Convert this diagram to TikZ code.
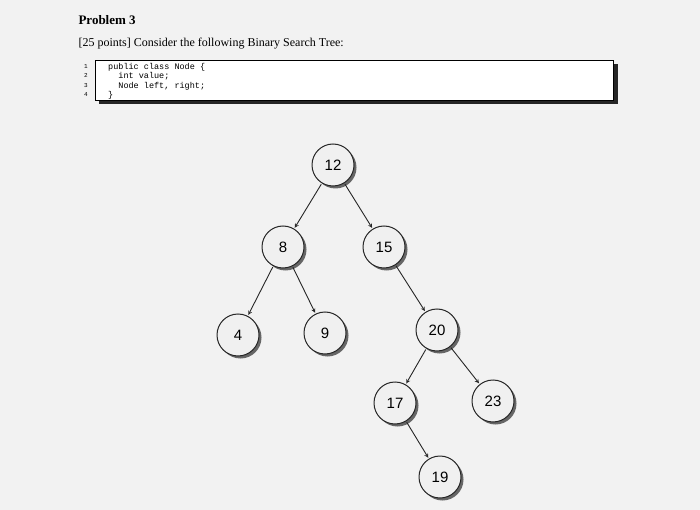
\documentclass[tikz,border=0pt]{standalone}
\usepackage{fontspec}
\setmainfont{Liberation Serif}
\newfontfamily\numfont{Liberation Sans}
\setmonofont{Liberation Mono}
\begin{document}
\begin{tikzpicture}[x=1pt,y=-1pt,
  bst/.style={circle,draw=black!85,line width=1pt,fill=gray!12,minimum size=42pt,inner sep=0pt,font=\numfont\fontsize{15}{15}\selectfont},
  shd/.style={circle,fill=black!60,minimum size=42pt,inner sep=0pt},
  edge/.style={-stealth,line width=0.9pt,black!85,shorten <=1pt,shorten >=1pt}]
\fill[gray!10] (0,0) rectangle (700,510);
\useasboundingbox (0,0) rectangle (700,510);
\node[anchor=west,font=\bfseries\fontsize{13}{13}\selectfont] (title) at (75,20) {Problem 3};
\node[anchor=west,font=\fontsize{12}{12}\selectfont] (text) at (75,44) {[25 points] Consider the following Binary Search Tree:};
\fill[black!85] (99,64) rectangle (618,104);
\draw[fill=white,line width=0.6pt] (95,60) rectangle (613,100);
\node[anchor=north west,align=left,font=\ttfamily\fontsize{8.5}{9.5}\selectfont,inner sep=0pt] (code) at (108,63)
 {public class Node \{\\\ \ int value;\\\ \ Node left, right;\\\}};
\node[anchor=north east,align=right,font=\ttfamily\fontsize{6}{9.5}\selectfont,inner sep=0pt] (nums) at (88,64) {1\\2\\3\\4};
\foreach \n/\x/\y in {a/333/165,b/283/247,c/384/247,d/238/335,e/325/333,f/437/330,g/395/403,h/493/401,i/440/477}
  \node[shd] at (\x+2.5,\y+2.5) {};
\node[bst] (n12) at (333,165) {12};
\node[bst] (n8) at (283,247) {8};
\node[bst] (n15) at (384,247) {15};
\node[bst] (n4) at (238,335) {4};
\node[bst] (n9) at (325,333) {9};
\node[bst] (n20) at (437,330) {20};
\node[bst] (n17) at (395,403) {17};
\node[bst] (n23) at (493,401) {23};
\node[bst] (n19) at (440,477) {19};
\draw[edge] (n12) -- (n8);
\draw[edge] (n12) -- (n15);
\draw[edge] (n8) -- (n4);
\draw[edge] (n8) -- (n9);
\draw[edge] (n15) -- (n20);
\draw[edge] (n20) -- (n17);
\draw[edge] (n20) -- (n23);
\draw[edge] (n17) -- (n19);
\end{tikzpicture}
\end{document}
